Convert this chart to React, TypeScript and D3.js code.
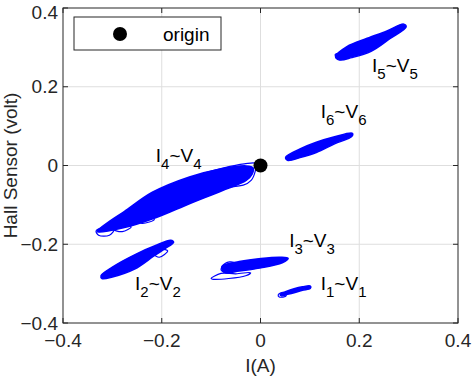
import React from 'react';
import * as d3 from 'd3';

// axis ticks
const X_TICKS = [-0.4, -0.2, 0, 0.2, 0.4];
const Y_TICKS = [-0.4, -0.2, 0, 0.2, 0.4];

// each cluster: filled core outline + extra loose loops (data units, I(A) vs volt)
const I1_CORE: [number, number][] = [[0.040, -0.327], [0.052, -0.320], [0.068, -0.313], [0.085, -0.308], [0.101, -0.306], [0.101, -0.312], [0.085, -0.317], [0.068, -0.323], [0.052, -0.328], [0.042, -0.331]];
const I1_LOOPS: [number, number][][] = [
  [[0.036, -0.328], [0.046, -0.322], [0.052, -0.331], [0.038, -0.334]]
];

const I2_CORE: [number, number][] = [[-0.323, -0.280], [-0.300, -0.258], [-0.252, -0.225], [-0.210, -0.202], [-0.182, -0.190], [-0.176, -0.195], [-0.188, -0.207], [-0.215, -0.229], [-0.255, -0.263], [-0.300, -0.283], [-0.321, -0.287]];
const I2_LOOPS: [number, number][][] = [
  [[-0.215, -0.226], [-0.200, -0.213], [-0.188, -0.217], [-0.205, -0.233]]
];

const I3_CORE: [number, number][] = [[-0.078, -0.256], [-0.043, -0.244], [0.001, -0.236], [0.042, -0.233], [0.056, -0.236], [0.044, -0.247], [0.001, -0.260], [-0.043, -0.268], [-0.074, -0.271]];
const I3_LOOPS: [number, number][][] = [
  [[-0.100, -0.287], [-0.080, -0.274], [-0.050, -0.275], [-0.020, -0.272], [-0.030, -0.280], [-0.096, -0.289]],
  [[-0.080, -0.265], [-0.071, -0.248], [-0.055, -0.246], [-0.051, -0.260], [-0.067, -0.273]]
];

const I4_CORE: [number, number][] = [[-0.331, -0.168], [-0.306, -0.142], [-0.276, -0.117], [-0.219, -0.068], [-0.144, -0.029], [-0.078, -0.008], [-0.029, -0.001], [-0.015, -0.006], [-0.017, -0.022], [-0.029, -0.038], [-0.078, -0.064], [-0.144, -0.097], [-0.211, -0.132], [-0.280, -0.159]];
const I4_LOOPS: [number, number][][] = [
  [[-0.175, -0.052], [-0.124, -0.024], [-0.074, -0.006], [-0.033, 0.004], [-0.009, 0.005], [-0.011, -0.016], [-0.019, -0.038], [-0.035, -0.050]],
  [[-0.333, -0.166], [-0.316, -0.157], [-0.296, -0.161], [-0.306, -0.177], [-0.328, -0.177]],
  [[-0.300, -0.161], [-0.280, -0.151], [-0.262, -0.156], [-0.280, -0.168]],
  [[-0.250, -0.140], [-0.225, -0.130], [-0.215, -0.137], [-0.240, -0.147]]
];

const I5_CORE: [number, number][] = [[0.152, 0.277], [0.175, 0.302], [0.216, 0.323], [0.255, 0.341], [0.290, 0.359], [0.295, 0.352], [0.262, 0.322], [0.224, 0.290], [0.185, 0.274], [0.160, 0.268]];
const I5_LOOPS: [number, number][][] = [
  [[0.151, 0.281], [0.160, 0.270], [0.172, 0.273], [0.160, 0.285]]
];

const I6_CORE: [number, number][] = [[0.051, 0.021], [0.080, 0.042], [0.113, 0.059], [0.150, 0.073], [0.186, 0.082], [0.185, 0.074], [0.150, 0.055], [0.113, 0.033], [0.080, 0.020], [0.055, 0.013]];
const I6_LOOPS: [number, number][][] = [];

const CLUSTERS = [
  { core: I1_CORE, loops: I1_LOOPS },
  { core: I2_CORE, loops: I2_LOOPS },
  { core: I3_CORE, loops: I3_LOOPS },
  { core: I4_CORE, loops: I4_LOOPS },
  { core: I5_CORE, loops: I5_LOOPS },
  { core: I6_CORE, loops: I6_LOOPS }
];

// annotation labels: index and baseline start position (data units)
const LABEL_IDX = ['1', '2', '3', '4', '5', '6'];
const LABEL_X = [0.122, -0.254, 0.058, -0.212, 0.226, 0.122];
const LABEL_Y = [-0.315, -0.315, -0.206, 0.009, 0.238, 0.121];

const WIDTH = 474;
const HEIGHT = 380;
const margin = { top: 8, right: 16, bottom: 57, left: 63 };
const FONT = '"Liberation Sans", Arial, Helvetica, sans-serif';
const BLUE = '#0000ff';
const AXIS = '#262626';

const App: React.FC = () => {
  const x = d3.scaleLinear().domain([-0.4, 0.4]).range([margin.left, WIDTH - margin.right]);
  const y = d3.scaleLinear().domain([-0.4, 0.4]).range([HEIGHT - margin.bottom, margin.top]);
  const x0 = margin.left, x1 = WIDTH - margin.right;
  const y0 = margin.top, y1 = HEIGHT - margin.bottom;

  const loop = d3.line<[number, number]>()
    .x(d => x(d[0]))
    .y(d => y(d[1]))
    .curve(d3.curveCatmullRomClosed);

  return (
    <svg width={WIDTH} height={HEIGHT} style={{ position: 'absolute', left: 0, top: 0, background: '#fff' }} fontFamily={FONT}>
      <rect x={0} y={0} width={WIDTH} height={HEIGHT} fill="#fff" />
      {/* grid */}
      {X_TICKS.slice(1, -1).map(t => (
        <line key={'gx' + t} x1={x(t)} x2={x(t)} y1={y0} y2={y1} stroke="#dedede" strokeWidth={1} />
      ))}
      {Y_TICKS.slice(1, -1).map(t => (
        <line key={'gy' + t} x1={x0} x2={x1} y1={y(t)} y2={y(t)} stroke="#dedede" strokeWidth={1} />
      ))}

      {/* clusters */}
      {CLUSTERS.map((c, i) => (
        <g key={'c' + i}>
          <path d={loop(c.core) || ''} fill={BLUE} stroke={BLUE} strokeWidth={1.5} />
          {c.loops.map((l, j) => (
            <path key={j} d={loop(l) || ''} fill="none" stroke={BLUE} strokeWidth={1.2} />
          ))}
        </g>
      ))}

      {/* origin marker */}
      <circle cx={x(0)} cy={y(0)} r={7} fill="#000" />

      {/* labels */}
      {LABEL_IDX.map((k, i) => (
        <text key={'l' + k} x={x(LABEL_X[i])} y={y(LABEL_Y[i])} fontSize={19} fill="#000">
          I<tspan fontSize={15} dy={7}>{k}</tspan><tspan dy={-7}>~V</tspan><tspan fontSize={15} dy={7}>{k}</tspan>
        </text>
      ))}

      {/* axes box */}
      <rect x={x0} y={y0} width={x1 - x0} height={y1 - y0} fill="none" stroke={AXIS} strokeWidth={1} />
      {X_TICKS.map(t => (
        <g key={'tx' + t}>
          <line x1={x(t)} x2={x(t)} y1={y1} y2={y1 - 5} stroke={AXIS} />
          <line x1={x(t)} x2={x(t)} y1={y0} y2={y0 + 5} stroke={AXIS} />
          <text x={x(t)} y={y1 + 24} fontSize={19} textAnchor="middle" fill={AXIS}>{d3.format('')(t)}</text>
        </g>
      ))}
      {Y_TICKS.map(t => (
        <g key={'ty' + t}>
          <line x1={x0} x2={x0 + 5} y1={y(t)} y2={y(t)} stroke={AXIS} />
          <line x1={x1} x2={x1 - 5} y1={y(t)} y2={y(t)} stroke={AXIS} />
          <text x={x0 - 5} y={Math.max(y(t), 12)} dy="0.35em" fontSize={19} textAnchor="end" fill={AXIS}>{d3.format('')(t)}</text>
        </g>
      ))}

      {/* axis titles */}
      <text x={(x0 + x1) / 2} y={372} fontSize={19} textAnchor="middle" fill={AXIS}>I(A)</text>
      <text transform={`translate(17,${(y0 + y1) / 2}) rotate(-90)`} fontSize={19} textAnchor="middle" fill={AXIS}>Hall Sensor (volt)</text>

      {/* legend */}
      <rect x={74} y={17} width={147} height={33} fill="#fff" stroke={AXIS} strokeWidth={1} />
      <circle cx={120} cy={34} r={7} fill="#000" />
      <text x={163} y={41} fontSize={19} fill="#000">origin</text>
    </svg>
  );
};

export default App;
